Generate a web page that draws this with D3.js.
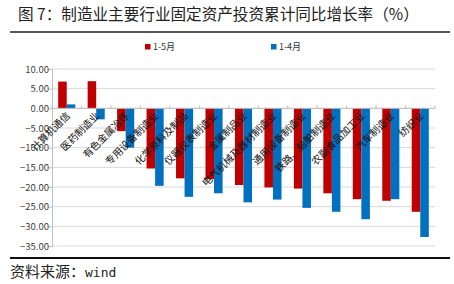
<!DOCTYPE html>
<html>
<head>
<meta charset="utf-8">
<script src="https://cdn.jsdelivr.net/npm/d3@7"></script>
<style>
    body { margin: 0; background: #fff; }
    text { font-family: "Noto Sans CJK SC", "Noto Sans", sans-serif; }
</style>
</head>
<body>
<div id="chart"></div>
<script>
const categories = ["计算机通信", "医药制造业", "有色金属冶炼", "专用设备制造业", "化学原料及制品",
    "仪器仪表制造业", "金属制品业", "电气机械及器材制造业", "通用设备制造业", "铁路、船舶制造业",
    "农副食品加工业", "汽车制造业", "纺织业"];
const seriesNames = ["1-5月", "1-4月"];
const may = [6.8, 6.9, -5.8, -15.3, -17.8, -18.0, -19.5, -20.1, -20.4, -21.6, -23.1, -23.5, -26.3];
const april = [1.0, -2.8, -10.0, -19.7, -22.5, -21.6, -23.9, -23.2, -25.3, -26.3, -28.2, -23.1, -32.7];
const yTicks = [10, 5, 0, -5, -10, -15, -20, -25, -30, -35];
const colors = ["#C00000", "#0070C0"];

const width = 454, height = 284;
const margin = { top: 69, right: 19, bottom: 38, left: 52 };
const innerW = width - margin.left - margin.right;
const innerH = height - margin.top - margin.bottom;

const svg = d3.select("#chart").append("svg")
    .attr("width", width)
    .attr("height", height);

// title
svg.append("text")
    .attr("x", 18)
    .attr("y", 20)
    .attr("font-size", 15.6)
    .attr("fill", "#222")
    .text("图 7：制造业主要行业固定资产投资累计同比增长率（%）");

svg.append("line")
    .attr("x1", 10).attr("x2", 450)
    .attr("y1", 32).attr("y2", 32)
    .attr("stroke", "#222").attr("stroke-width", 1.5);

// legend
const legend = svg.append("g");
[145, 271].forEach((lx, i) => {
    legend.append("rect")
        .attr("x", lx).attr("y", 44)
        .attr("width", 5.5).attr("height", 5.5)
        .attr("fill", colors[i]);
    legend.append("text")
        .attr("x", lx + 8).attr("y", 50)
        .attr("font-size", 9)
        .attr("fill", "#333")
        .text(seriesNames[i]);
});

const g = svg.append("g")
    .attr("transform", `translate(${margin.left},${margin.top})`);

const x = d3.scaleBand()
    .domain(categories)
    .range([0, innerW])
    .paddingInner(0.42)
    .paddingOuter(0.21);

const xSub = d3.scaleBand()
    .domain([0, 1])
    .range([0, x.bandwidth()]);

const y = d3.scaleLinear()
    .domain([-35, 10])
    .range([innerH, 0]);

// grid
g.append("g")
    .selectAll("line")
    .data(yTicks)
    .join("line")
    .attr("x1", 0).attr("x2", innerW)
    .attr("y1", d => y(d)).attr("y2", d => y(d))
    .attr("stroke", "#d9d9d9");

// y axis
const yAxis = g.append("g")
    .call(d3.axisLeft(y).tickValues(yTicks).tickFormat(d3.format(".2f")).tickSize(4));
yAxis.select(".domain").attr("stroke", "#bfbfbf");
yAxis.selectAll(".tick line").attr("stroke", "#bfbfbf");
yAxis.selectAll(".tick text")
    .attr("font-size", 9.5)
    .attr("fill", "#404040")
    .attr("font-family", "Liberation Sans, Arial, sans-serif")
    .attr("x", -3);

// bars
const seriesData = [may, april];
seriesData.forEach((vals, s) => {
    g.append("g")
        .selectAll("rect")
        .data(vals)
        .join("rect")
        .attr("x", (d, i) => x(categories[i]) + xSub(s))
        .attr("width", xSub.bandwidth())
        .attr("y", d => y(Math.max(0, d)))
        .attr("height", d => Math.abs(y(d) - y(0)))
        .attr("fill", colors[s]);
});

// zero axis with category ticks
const step = x.step();
g.append("line")
    .attr("x1", 0).attr("x2", innerW)
    .attr("y1", y(0)).attr("y2", y(0))
    .attr("stroke", "#bfbfbf");
g.append("g")
    .selectAll("line")
    .data(d3.range(categories.length + 1))
    .join("line")
    .attr("x1", d => d * step).attr("x2", d => d * step)
    .attr("y1", y(0)).attr("y2", y(0) - 3)
    .attr("stroke", "#bfbfbf");

// category labels
g.append("g")
    .selectAll("text")
    .data(categories)
    .join("text")
    .attr("text-anchor", "end")
    .attr("font-size", 10)
    .attr("fill", "#111")
    .attr("transform", d => `translate(${x(d) + x.bandwidth() / 2 + 4},${y(0) + 8}) rotate(-45)`)
    .text(d => d);

// footer
svg.append("line")
    .attr("x1", 10).attr("x2", 450)
    .attr("y1", 258).attr("y2", 258)
    .attr("stroke", "#111").attr("stroke-width", 2);

const src = svg.append("text")
    .attr("x", 10)
    .attr("y", 277)
    .attr("font-size", 15)
    .attr("fill", "#222");
src.append("tspan").text("资料来源：");
src.append("tspan")
    .attr("font-family", "DejaVu Sans Mono, monospace")
    .attr("font-size", 13)
    .text("wind");
</script>
</body>
</html>
